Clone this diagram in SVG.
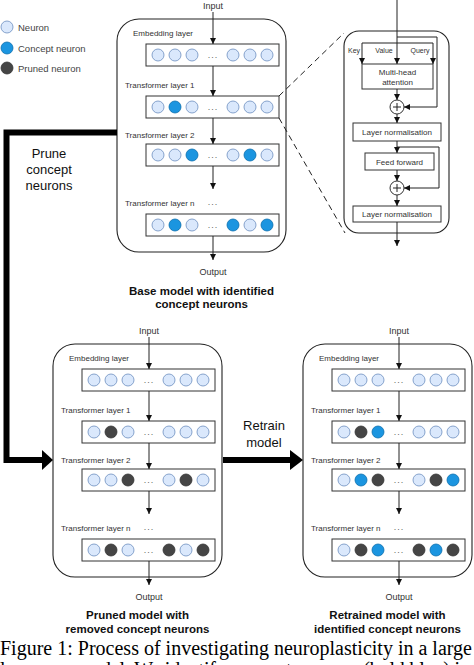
<svg xmlns="http://www.w3.org/2000/svg" width="474" height="665" viewBox="0 0 474 665">
<style>
text{font-family:"Liberation Sans",Arial,sans-serif;}
.frame{fill:#fff;stroke:#222;stroke-width:1.1;}
.layer{fill:#fff;stroke:#333;stroke-width:1;}
.n{fill:#dae8fc;stroke:#6c8ebf;stroke-width:0.8;}
.c{fill:#1b95e0;stroke:#0a6fae;stroke-width:0.8;}
.p{fill:#454545;stroke:#333;stroke-width:0.8;}
.lbl{font-size:8px;fill:#333;}
.io{font-size:9px;fill:#333;text-anchor:middle;}
.dots{font-size:9px;fill:#666;text-anchor:middle;letter-spacing:1px;}
.title{font-size:11.5px;font-weight:bold;fill:#111;text-anchor:middle;}
.leg{font-size:9.5px;fill:#444;}
.big{font-size:13px;fill:#111;text-anchor:middle;}
.tb{fill:#fff;stroke:#333;stroke-width:1;}
.tt{font-size:8px;fill:#333;text-anchor:middle;}
.kv{font-size:7px;fill:#333;text-anchor:middle;}
.ln{fill:none;stroke:#222;stroke-width:1;}
.thick{fill:none;stroke:#000;stroke-width:6;}
.dash{fill:none;stroke:#222;stroke-width:1;stroke-dasharray:6 4;}
.cap{font-family:"Liberation Serif","Times New Roman",serif;font-size:20px;fill:#000;}
</style>
<defs>
<marker id="ah" viewBox="0 0 10 10" refX="10" refY="5" markerWidth="6" markerHeight="6" markerUnits="userSpaceOnUse" orient="auto">
<path d="M0,0 L10,5 L0,10 z" fill="#111"/>
</marker>
</defs>
<rect width="474" height="665" fill="#fff"/>

<g id="legend">
<circle class="n" cx="7" cy="27" r="6"/><text class="leg" x="18" y="30.5">Neuron</text>
<circle class="c" cx="7" cy="48" r="6"/><text class="leg" x="18" y="51.5">Concept neuron</text>
<circle class="p" cx="7" cy="68" r="6"/><text class="leg" x="18" y="71.5">Pruned neuron</text>
</g>

<g id="base-model">
<rect class="frame" x="117" y="19" width="169" height="233" rx="22"/>
<text class="io" x="213" y="9">Input</text>
<text class="lbl" x="133" y="36">Embedding layer</text>
<rect class="layer" x="146" y="44" width="133" height="22"/>
<circle class="n" cx="158" cy="55" r="6"/><circle class="n" cx="175" cy="55" r="6"/><circle class="n" cx="192" cy="55" r="6"/>
<text class="dots" x="213" y="57.5">...</text>
<circle class="n" cx="233" cy="55" r="6"/><circle class="n" cx="250" cy="55" r="6"/><circle class="n" cx="267" cy="55" r="6"/>
<text class="lbl" x="125" y="88">Transformer layer 1</text>
<rect class="layer" x="146" y="96" width="133" height="22"/>
<circle class="n" cx="158" cy="107" r="6"/><circle class="c" cx="175" cy="107" r="6"/><circle class="n" cx="192" cy="107" r="6"/>
<text class="dots" x="213" y="109.5">...</text>
<circle class="n" cx="233" cy="107" r="6"/><circle class="n" cx="250" cy="107" r="6"/><circle class="n" cx="267" cy="107" r="6"/>
<text class="lbl" x="125" y="138">Transformer layer 2</text>
<rect class="layer" x="146" y="144" width="133" height="22"/>
<circle class="n" cx="158" cy="155" r="6"/><circle class="n" cx="175" cy="155" r="6"/><circle class="c" cx="192" cy="155" r="6"/>
<text class="dots" x="213" y="157.5">...</text>
<circle class="n" cx="233" cy="155" r="6"/><circle class="c" cx="250" cy="155" r="6"/><circle class="n" cx="267" cy="155" r="6"/>
<text class="lbl" x="125" y="206">Transformer layer n</text>
<text class="dots" x="213" y="205">...</text>
<rect class="layer" x="146" y="214" width="133" height="22"/>
<circle class="n" cx="158" cy="225" r="6"/><circle class="c" cx="175" cy="225" r="6"/><circle class="n" cx="192" cy="225" r="6"/>
<text class="dots" x="213" y="227.5">...</text>
<circle class="c" cx="233" cy="225" r="6"/><circle class="n" cx="250" cy="225" r="6"/><circle class="c" cx="267" cy="225" r="6"/>
<text class="io" x="213" y="275">Output</text>
<text class="title" x="201.5" y="295">Base model with identified</text>
<text class="title" x="201.5" y="308">concept neurons</text>
</g>

<g id="pruned-model" transform="translate(-64,325)">
<rect class="frame" x="117" y="19" width="169" height="233" rx="22"/>
<text class="io" x="213" y="9">Input</text>
<text class="lbl" x="133" y="36">Embedding layer</text>
<rect class="layer" x="146" y="44" width="133" height="22"/>
<circle class="n" cx="158" cy="55" r="6"/><circle class="n" cx="175" cy="55" r="6"/><circle class="n" cx="192" cy="55" r="6"/>
<text class="dots" x="213" y="57.5">...</text>
<circle class="n" cx="233" cy="55" r="6"/><circle class="n" cx="250" cy="55" r="6"/><circle class="n" cx="267" cy="55" r="6"/>
<text class="lbl" x="125" y="88">Transformer layer 1</text>
<rect class="layer" x="146" y="96" width="133" height="22"/>
<circle class="n" cx="158" cy="107" r="6"/><circle class="p" cx="175" cy="107" r="6"/><circle class="n" cx="192" cy="107" r="6"/>
<text class="dots" x="213" y="109.5">...</text>
<circle class="n" cx="233" cy="107" r="6"/><circle class="n" cx="250" cy="107" r="6"/><circle class="n" cx="267" cy="107" r="6"/>
<text class="lbl" x="125" y="138">Transformer layer 2</text>
<rect class="layer" x="146" y="144" width="133" height="22"/>
<circle class="n" cx="158" cy="155" r="6"/><circle class="n" cx="175" cy="155" r="6"/><circle class="p" cx="192" cy="155" r="6"/>
<text class="dots" x="213" y="157.5">...</text>
<circle class="n" cx="233" cy="155" r="6"/><circle class="p" cx="250" cy="155" r="6"/><circle class="n" cx="267" cy="155" r="6"/>
<text class="lbl" x="125" y="206">Transformer layer n</text>
<text class="dots" x="213" y="205">...</text>
<rect class="layer" x="146" y="214" width="133" height="22"/>
<circle class="n" cx="158" cy="225" r="6"/><circle class="p" cx="175" cy="225" r="6"/><circle class="n" cx="192" cy="225" r="6"/>
<text class="dots" x="213" y="227.5">...</text>
<circle class="p" cx="233" cy="225" r="6"/><circle class="n" cx="250" cy="225" r="6"/><circle class="p" cx="267" cy="225" r="6"/>
<text class="io" x="213" y="275">Output</text>
<text class="title" x="201.5" y="294">Pruned model with</text>
<text class="title" x="201.5" y="308">removed concept neurons</text>
</g>

<g id="retrained-model" transform="translate(186,325)">
<rect class="frame" x="117" y="19" width="169" height="233" rx="22"/>
<text class="io" x="213" y="9">Input</text>
<text class="lbl" x="133" y="36">Embedding layer</text>
<rect class="layer" x="146" y="44" width="133" height="22"/>
<circle class="n" cx="158" cy="55" r="6"/><circle class="n" cx="175" cy="55" r="6"/><circle class="n" cx="192" cy="55" r="6"/>
<text class="dots" x="213" y="57.5">...</text>
<circle class="n" cx="233" cy="55" r="6"/><circle class="n" cx="250" cy="55" r="6"/><circle class="n" cx="267" cy="55" r="6"/>
<text class="lbl" x="125" y="88">Transformer layer 1</text>
<rect class="layer" x="146" y="96" width="133" height="22"/>
<circle class="n" cx="158" cy="107" r="6"/><circle class="p" cx="175" cy="107" r="6"/><circle class="c" cx="192" cy="107" r="6"/>
<text class="dots" x="213" y="109.5">...</text>
<circle class="n" cx="233" cy="107" r="6"/><circle class="n" cx="250" cy="107" r="6"/><circle class="n" cx="267" cy="107" r="6"/>
<text class="lbl" x="125" y="138">Transformer layer 2</text>
<rect class="layer" x="146" y="144" width="133" height="22"/>
<circle class="n" cx="158" cy="155" r="6"/><circle class="c" cx="175" cy="155" r="6"/><circle class="p" cx="192" cy="155" r="6"/>
<text class="dots" x="213" y="157.5">...</text>
<circle class="n" cx="233" cy="155" r="6"/><circle class="p" cx="250" cy="155" r="6"/><circle class="c" cx="267" cy="155" r="6"/>
<text class="lbl" x="125" y="206">Transformer layer n</text>
<text class="dots" x="213" y="205">...</text>
<rect class="layer" x="146" y="214" width="133" height="22"/>
<circle class="n" cx="158" cy="225" r="6"/><circle class="p" cx="175" cy="225" r="6"/><circle class="c" cx="192" cy="225" r="6"/>
<text class="dots" x="213" y="227.5">...</text>
<circle class="p" cx="233" cy="225" r="6"/><circle class="c" cx="250" cy="225" r="6"/><circle class="p" cx="267" cy="225" r="6"/>
<text class="io" x="213" y="275">Output</text>
<text class="title" x="201.5" y="294">Retrained model with</text>
<text class="title" x="201.5" y="308">identified concept neurons</text>
</g>

<g id="transformer-block">
<rect class="frame" x="344" y="31" width="105" height="202" rx="15"/>
<text class="kv" x="354" y="53">Key</text>
<text class="kv" x="384" y="53">Value</text>
<text class="kv" x="420" y="53">Query</text>
<rect class="tb" x="362" y="64" width="71" height="25"/>
<text class="tt" x="397.5" y="75">Multi-head</text>
<text class="tt" x="397.5" y="84.5">attention</text>
<circle class="tb" cx="397" cy="107" r="7"/>
<path class="ln" d="M393,107 H401 M397,103 V111"/>
<rect class="tb" x="353" y="123" width="88" height="18"/>
<text class="tt" x="397" y="135">Layer normalisation</text>
<rect class="tb" x="365" y="153" width="69" height="17"/>
<text class="tt" x="399.5" y="164.5">Feed forward</text>
<circle class="tb" cx="397" cy="188" r="7"/>
<path class="ln" d="M393,188 H401 M397,184 V192"/>
<rect class="tb" x="353" y="206" width="88" height="16"/>
<text class="tt" x="397" y="217">Layer normalisation</text>
</g>

<g id="connectors">
<g transform="translate(0,0)">
<path class="ln" d="M213,12 V44" marker-end="url(#ah)"/>
<path class="ln" d="M213,66 V96" marker-end="url(#ah)"/>
<path class="ln" d="M213,118 V144" marker-end="url(#ah)"/>
<path class="ln" d="M213,166 V189" marker-end="url(#ah)"/>
<path class="ln" d="M213,236 V260" marker-end="url(#ah)"/>
</g>
<g transform="translate(-64,325)">
<path class="ln" d="M213,12 V44" marker-end="url(#ah)"/>
<path class="ln" d="M213,66 V96" marker-end="url(#ah)"/>
<path class="ln" d="M213,118 V144" marker-end="url(#ah)"/>
<path class="ln" d="M213,166 V189" marker-end="url(#ah)"/>
<path class="ln" d="M213,236 V260" marker-end="url(#ah)"/>
</g>
<g transform="translate(186,325)">
<path class="ln" d="M213,12 V44" marker-end="url(#ah)"/>
<path class="ln" d="M213,66 V96" marker-end="url(#ah)"/>
<path class="ln" d="M213,118 V144" marker-end="url(#ah)"/>
<path class="ln" d="M213,166 V189" marker-end="url(#ah)"/>
<path class="ln" d="M213,236 V260" marker-end="url(#ah)"/>
</g>
<path class="ln" d="M397,0 V64" marker-end="url(#ah)"/>
<path class="ln" d="M397,43 H362 V64" marker-end="url(#ah)"/>
<path class="ln" d="M397,43 H433 V64" marker-end="url(#ah)"/>
<path class="ln" d="M397,37 H437 V107 H404" marker-end="url(#ah)"/>
<path class="ln" d="M397,89 V100" marker-end="url(#ah)"/>
<path class="ln" d="M397,114 V123" marker-end="url(#ah)"/>
<path class="ln" d="M397,141 V153" marker-end="url(#ah)"/>
<path class="ln" d="M397,147 H439 V188 H404" marker-end="url(#ah)"/>
<path class="ln" d="M397,170 V181" marker-end="url(#ah)"/>
<path class="ln" d="M397,195 V206" marker-end="url(#ah)"/>
<path class="ln" d="M397,222 V246" marker-end="url(#ah)"/>
<path class="dash" d="M279,96 L344,33"/>
<path class="dash" d="M279,118 L345,233"/>
<path class="thick" d="M117,132.5 H6.5 V460 H43"/>
<polygon points="42,450 53,460 42,470" fill="#000"/>
<text class="big" x="49" y="158">Prune</text>
<text class="big" x="49" y="174">concept</text>
<text class="big" x="49" y="190">neurons</text>
<path class="thick" d="M223,460 H291"/>
<polygon points="290,450 303,460 290,470" fill="#000"/>
<text class="big" x="264" y="430">Retrain</text>
<text class="big" x="264" y="447">model</text>
</g>

<text class="cap" x="0" y="655" textLength="472">Figure 1: Process of investigating neuroplasticity in a large</text>
<text class="cap" x="0" y="676" textLength="470">language model. We identify concept neurons (bold blue) in</text>
</svg>
